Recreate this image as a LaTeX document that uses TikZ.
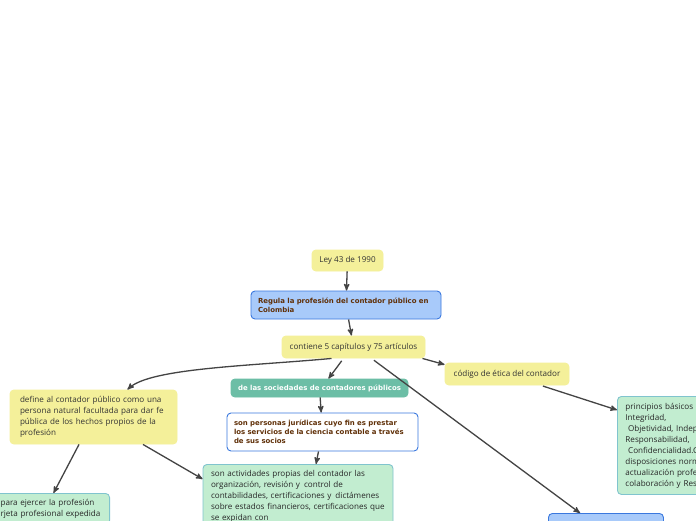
\documentclass[tikz,border=0pt]{standalone}
\usepackage{fontspec}
\setmainfont{Open Sans}
\newfontfamily\boldfont{DejaVu Sans}
\usetikzlibrary{arrows,calc,positioning}
\definecolor{yelfill}{RGB}{244,240,154}
\definecolor{blufill}{RGB}{168,202,250}
\definecolor{bluline}{RGB}{58,120,222}
\definecolor{tealfill}{RGB}{108,190,166}
\definecolor{grnfill}{RGB}{194,237,208}
\definecolor{grnline}{RGB}{128,196,206}
\definecolor{brown}{RGB}{96,48,8}
\definecolor{pilgray}{RGB}{68,68,68}
\newcommand{\txt}{\fontsize{8.1}{11}\selectfont}
\newcommand{\bld}{\boldfont\bfseries\fontsize{6.95}{8.8}\selectfont}
\tikzset{
    box/.style={
           rectangle,
           rounded corners=4pt,
           line width=0.9pt,
           inner sep=0pt,
           },
    yel/.style={
           box,
           fill=yelfill,
           draw=yelfill,
           text=black!80,
           font=\txt,
           align=left,
           },
    blu/.style={
           box,
           fill=blufill,
           draw=bluline,
           text=brown,
           font=\bld,
           align=left,
           },
    wht/.style={
           box,
           fill=white,
           draw=bluline,
           text=brown,
           font=\bld,
           align=left,
           },
    tea/.style={
           box,
           fill=tealfill,
           draw=tealfill,
           text=white,
           font=\bld,
           },
    grn/.style={
           box,
           fill=grnfill,
           draw=grnline,
           text=black!85,
           font=\txt,
           align=left,
           },
    pil/.style={
           ->,
           line width=1.3pt,
           draw=pilgray,
           },
}

\begin{document}
\begin{tikzpicture}[x=1pt,y=-1pt,>=stealth']
\useasboundingbox (0,0) rectangle (696,520);
\clip (0,0) rectangle (696,520);
\fill[white] (0,0) rectangle (696,520);
\node[yel, minimum width=71pt, minimum height=21pt, align=center] (a1) at (347.5,260.5) {Ley 43 de 1990};
\node[blu, text width=176pt, inner xsep=7pt, minimum height=28pt] (a2) at (346,305) {Regula la profesión del contador público en\\Colombia};
\node[yel, minimum width=143pt, minimum height=22pt, align=center] (a3) at (353.5,347) {contiene 5 capítulos y 75 artículos};
\node[yel, minimum width=124pt, minimum height=22pt, align=center] (a4) at (507,374) {código de ética del contador};
\node[tea, minimum width=177pt, minimum height=18pt] (a5) at (319.5,388) {de las sociedades de contadores públicos};
\node[wht, text width=177pt, inner xsep=7pt, minimum height=38pt] (a6) at (322.5,432) {son personas jurídicas cuyo fin es prestar\\los servicios de la ciencia contable a través\\de sus socios};
\node[yel, text width=147pt, inner xsep=10pt, minimum height=54pt] (a7) at (93.5,417) {define al contador público como una\\persona natural facultada para dar fe\\pública de los hechos propios de la\\profesión};
\node[grn, text width=174pt, inner xsep=8pt, inner ysep=6pt, anchor=north] (a8) at (298,464) {son actividades propias del contador las\\organización, revisión y\, control de\\contabilidades, certificaciones y\, dictámenes\\sobre estados financieros, certificaciones que\\se expidan con};
\node[grn, text width=100pt, inner xsep=9pt, inner ysep=6pt, anchor=north east] (a9) at (110,493) {para ejercer la profesión\\rjeta profesional expedida};
\node[grn, text width=130pt, inner xsep=8pt, minimum height=98pt, anchor=north west] (a10) at (617,396) {principios básicos d\\Integridad,\\\ Objetividad, Indep\\Responsabilidad,\\\ Confidencialidad.C\\disposiciones norm\\actualización profe\\colaboración y Res};
\node[blu, minimum width=115pt, minimum height=30pt, anchor=north west] (a11) at (548,513) {};
\path (a1) edge[pil] (a2);
\path (a2) edge[pil] (a3);
\draw[pil] ($(a3.south)+(-22,0)$) .. controls (250,366) and (150,368) .. ($(a7.north)+(34,0)$);
\draw[pil, shorten <=3pt] ($(a3.south)+(-10,0)$) -- ($(a5.north)+(9,0)$);
\draw[pil] ($(a3.south east)+(-3,0)$) -- ($(a4.north west)+(0,2)$);
\draw[pil, shorten <=3pt] ($(a3.south)+(18,0)$) -- ($(a11.north west)+(32,0)$);
\path (a5) edge[pil] (a6);
\draw[pil] ($(a6.south)+(-4,0)$) -- ($(a8.north)+(18,0)$);
\draw[pil] ($(a7.south)+(-14.5,0)$) -- ($(a9.north)+(3,0)$);
\draw[pil] ($(a7.south)+(49.5,0)$) -- ($(a8.north west)+(0,15)$);
\draw[pil, shorten <=2pt] ($(a4.south)+(34,0)$) -- ($(a10.north west)+(0,14)$);
\end{tikzpicture}
\end{document}
